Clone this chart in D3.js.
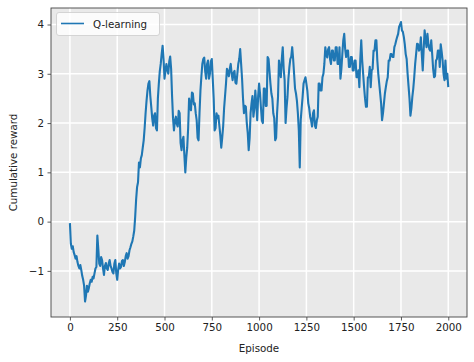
<!DOCTYPE html>
<html>
<head>
<meta charset="utf-8">
<script src="https://cdn.jsdelivr.net/npm/d3@7"></script>
<style>
  body { margin: 0; background: #fff; }
  text { font-family: "DejaVu Sans", sans-serif; }
</style>
</head>
<body>
<svg id="canvas"></svg>
<script>
let width = 474
let height = 362
let margin = {left: 51, top: 8, right: 7, bottom: 45}

// cumulative reward, one value every 5 episodes
let episodeStep = 5
let rewards = [
  -0.03, -0.45, -0.55, -0.50, -0.62, -0.68, -0.75, -0.70, -0.82, -0.90, -0.95, -0.88, -0.98, -1.10, -1.18, -1.30, -1.62, -1.50, -1.30, -1.42,
  -1.35, -1.25, -1.18, -1.22, -1.12, -1.15, -1.05, -0.95, -0.92, -0.28, -0.55, -0.85, -0.90, -0.72, -0.78, -0.95, -1.08, -0.90, -0.84, -0.95,
  -0.98, -0.85, -0.78, -0.90, -0.95, -1.02, -1.05, -0.85, -0.78, -1.05, -1.18, -0.98, -0.85, -0.95, -0.92, -0.80, -0.78, -0.90, -0.82, -0.70,
  -0.64, -0.75, -0.70, -0.58, -0.52, -0.45, -0.40, -0.30, -0.18, 0.10, 0.45, 0.70, 0.80, 1.20, 1.10, 1.28, 1.35, 1.50, 1.65, 1.90,
  2.20, 2.45, 2.66, 2.80, 2.85, 2.55, 2.33, 2.10, 1.95, 2.15, 2.20, 1.90, 1.85, 2.50, 2.80, 3.05, 3.20, 3.40, 3.57, 3.30,
  2.90, 3.05, 3.20, 3.08, 3.00, 3.25, 3.35, 3.10, 2.55, 2.10, 1.85, 2.05, 2.13, 1.98, 1.93, 2.25, 2.20, 1.60, 1.45, 1.65,
  1.72, 1.35, 1.00, 1.30, 1.50, 1.90, 2.50, 2.35, 2.26, 2.62, 2.60, 2.38, 2.40, 2.20, 2.06, 1.70, 1.65, 2.20, 2.66, 2.95,
  3.20, 3.30, 3.33, 3.05, 2.90, 3.20, 3.27, 2.90, 3.00, 3.25, 3.30, 2.90, 2.50, 1.85, 1.90, 2.20, 2.10, 2.15, 1.95, 1.75,
  1.50, 1.70, 1.93, 2.30, 2.55, 2.80, 3.10, 3.05, 2.95, 3.10, 3.20, 3.00, 2.87, 3.02, 3.06, 2.82, 2.80, 3.00, 3.20, 3.30,
  3.50, 3.20, 2.90, 2.50, 2.20, 2.35, 2.33, 2.00, 1.80, 1.45, 1.70, 2.20, 2.40, 2.55, 2.13, 2.30, 2.66, 2.40, 2.06, 2.55,
  2.80, 2.60, 2.30, 2.05, 2.00, 2.70, 2.70, 2.35, 2.35, 3.34, 3.30, 3.05, 2.80, 2.60, 2.50, 2.20, 2.10, 1.65, 1.70, 2.20,
  2.53, 3.27, 3.10, 2.93, 3.30, 3.54, 3.10, 2.87, 2.00, 2.30, 2.53, 2.90, 3.13, 3.30, 3.35, 3.54, 3.30, 3.00, 2.70, 2.60,
  2.45, 2.20, 1.85, 1.10, 2.06, 2.30, 2.53, 2.80, 2.87, 2.93, 2.80, 2.66, 2.40, 2.30, 2.13, 2.05, 1.93, 2.20, 2.26, 1.95,
  1.90, 2.05, 2.13, 2.80, 2.80, 2.66, 2.66, 2.93, 3.00, 3.20, 3.54, 3.40, 3.33, 3.50, 3.54, 3.30, 3.20, 3.47, 3.47, 3.27,
  3.27, 3.54, 3.54, 3.20, 3.20, 3.54, 2.90, 3.10, 3.40, 3.68, 3.81, 3.50, 3.34, 3.47, 3.47, 3.14, 3.14, 3.34, 3.34, 3.07,
  3.07, 3.27, 3.27, 2.93, 2.93, 3.07, 2.73, 3.30, 3.68, 3.27, 3.00, 2.73, 2.50, 2.33, 2.33, 2.93, 2.93, 3.14, 2.73, 3.07,
  3.10, 3.47, 3.47, 3.68, 3.68, 3.27, 3.00, 2.80, 2.60, 2.40, 2.06, 2.20, 2.40, 2.60, 2.73, 2.85, 2.93, 3.27, 3.27, 3.40,
  3.40, 3.34, 3.34, 3.54, 3.60, 3.68, 3.75, 3.81, 3.95, 4.00, 4.05, 3.88, 3.85, 3.75, 3.60, 3.40, 3.30, 3.00, 2.75, 2.50,
  2.15, 2.30, 2.53, 2.70, 2.93, 3.20, 3.40, 3.61, 3.60, 3.47, 3.50, 3.74, 3.40, 3.07, 3.50, 3.88, 3.70, 3.54, 3.81, 3.60,
  3.50, 3.47, 3.68, 3.40, 3.10, 2.93, 2.95, 3.27, 3.30, 3.47, 3.47, 3.14, 3.60, 3.45, 3.27, 3.00, 2.87, 3.27, 2.90, 3.00,
  2.73
]
let xTicks = [0, 250, 500, 750, 1000, 1250, 1500, 1750, 2000]
let yTicks = [-1, 0, 1, 2, 3, 4]
let seriesName = 'Q-learning'

let data = rewards.map((r, i) => ({episode: i * episodeStep, reward: r}))

let canvas = d3.select('#canvas')
canvas.attr('width', width)
      .attr('height', height)

let plotW = width - margin.left - margin.right
let plotH = height - margin.top - margin.bottom

let xScale = d3.scaleLinear()
               .domain([-100, 2099])
               .range([margin.left, margin.left + plotW])

let yScale = d3.scaleLinear()
               .domain([-1.935, 4.335])
               .range([margin.top + plotH, margin.top])

/*background*/
canvas.append('rect')
      .attr('x', margin.left)
      .attr('y', margin.top)
      .attr('width', plotW)
      .attr('height', plotH)
      .attr('fill', '#e9e9e9')

/*grid*/
canvas.selectAll('.gx')
      .data(xTicks)
      .enter()
      .append('line')
      .attr('x1', (d) => xScale(d))
      .attr('x2', (d) => xScale(d))
      .attr('y1', margin.top)
      .attr('y2', margin.top + plotH)
      .attr('stroke', '#fff')
      .attr('stroke-width', 1.5)

canvas.selectAll('.gy')
      .data(yTicks)
      .enter()
      .append('line')
      .attr('x1', margin.left)
      .attr('x2', margin.left + plotW)
      .attr('y1', (d) => yScale(d))
      .attr('y2', (d) => yScale(d))
      .attr('stroke', '#fff')
      .attr('stroke-width', 1.5)

/*line*/
let line = d3.line()
             .x((d) => xScale(d.episode))
             .y((d) => yScale(d.reward))

canvas.append('path')
      .datum(data)
      .attr('d', line)
      .attr('fill', 'none')
      .attr('stroke', '#1f77b4')
      .attr('stroke-width', 2.1)
      .attr('stroke-linejoin', 'round')

/*axes*/
let fmt = (d) => String(d).replace('-', '\u2212')

let xAxis = canvas.append('g')
      .attr('transform', `translate(0,${margin.top + plotH})`)
      .call(d3.axisBottom(xScale).tickValues(xTicks).tickSize(3.5).tickPadding(3.5).tickFormat(fmt))
let yAxis = canvas.append('g')
      .attr('transform', `translate(${margin.left},0)`)
      .call(d3.axisLeft(yScale).tickValues(yTicks).tickSize(3.5).tickPadding(3.5).tickFormat(fmt))

;[xAxis, yAxis].forEach((g) => {
  g.select('.domain').remove()
  g.selectAll('.tick line').attr('stroke', '#333').attr('stroke-width', 0.8)
  g.selectAll('.tick text').attr('fill', '#222').style('font-size', '10.3px')
})

/*frame*/
canvas.append('rect')
      .attr('x', margin.left)
      .attr('y', margin.top)
      .attr('width', plotW)
      .attr('height', plotH)
      .attr('fill', 'none')
      .attr('stroke', '#444')
      .attr('stroke-width', 0.9)

/*labels*/
canvas.append('text')
      .attr('x', margin.left + plotW / 2)
      .attr('y', 352)
      .attr('text-anchor', 'middle')
      .attr('fill', '#222')
      .style('font-size', '10.3px')
      .text('Episode')

canvas.append('text')
      .attr('transform', `translate(17,${margin.top + plotH / 2}) rotate(-90)`)
      .attr('text-anchor', 'middle')
      .attr('fill', '#222')
      .style('font-size', '10.3px')
      .text('Cumulative reward')

/*legend*/
canvas.append('rect')
      .attr('x', 56.5)
      .attr('y', 12.5)
      .attr('width', 103)
      .attr('height', 23)
      .attr('rx', 2.5)
      .attr('fill', 'rgba(255,255,255,0.8)')
      .attr('stroke', '#ccc')
      .attr('stroke-width', 0.8)
canvas.append('line')
      .attr('x1', 61)
      .attr('x2', 84)
      .attr('y1', 23.5)
      .attr('y2', 23.5)
      .attr('stroke', '#1f77b4')
      .attr('stroke-width', 1.6)
canvas.append('text')
      .attr('x', 93)
      .attr('y', 27.5)
      .attr('fill', '#222')
      .style('font-size', '10.3px')
      .text(seriesName)
</script>
</body>
</html>
